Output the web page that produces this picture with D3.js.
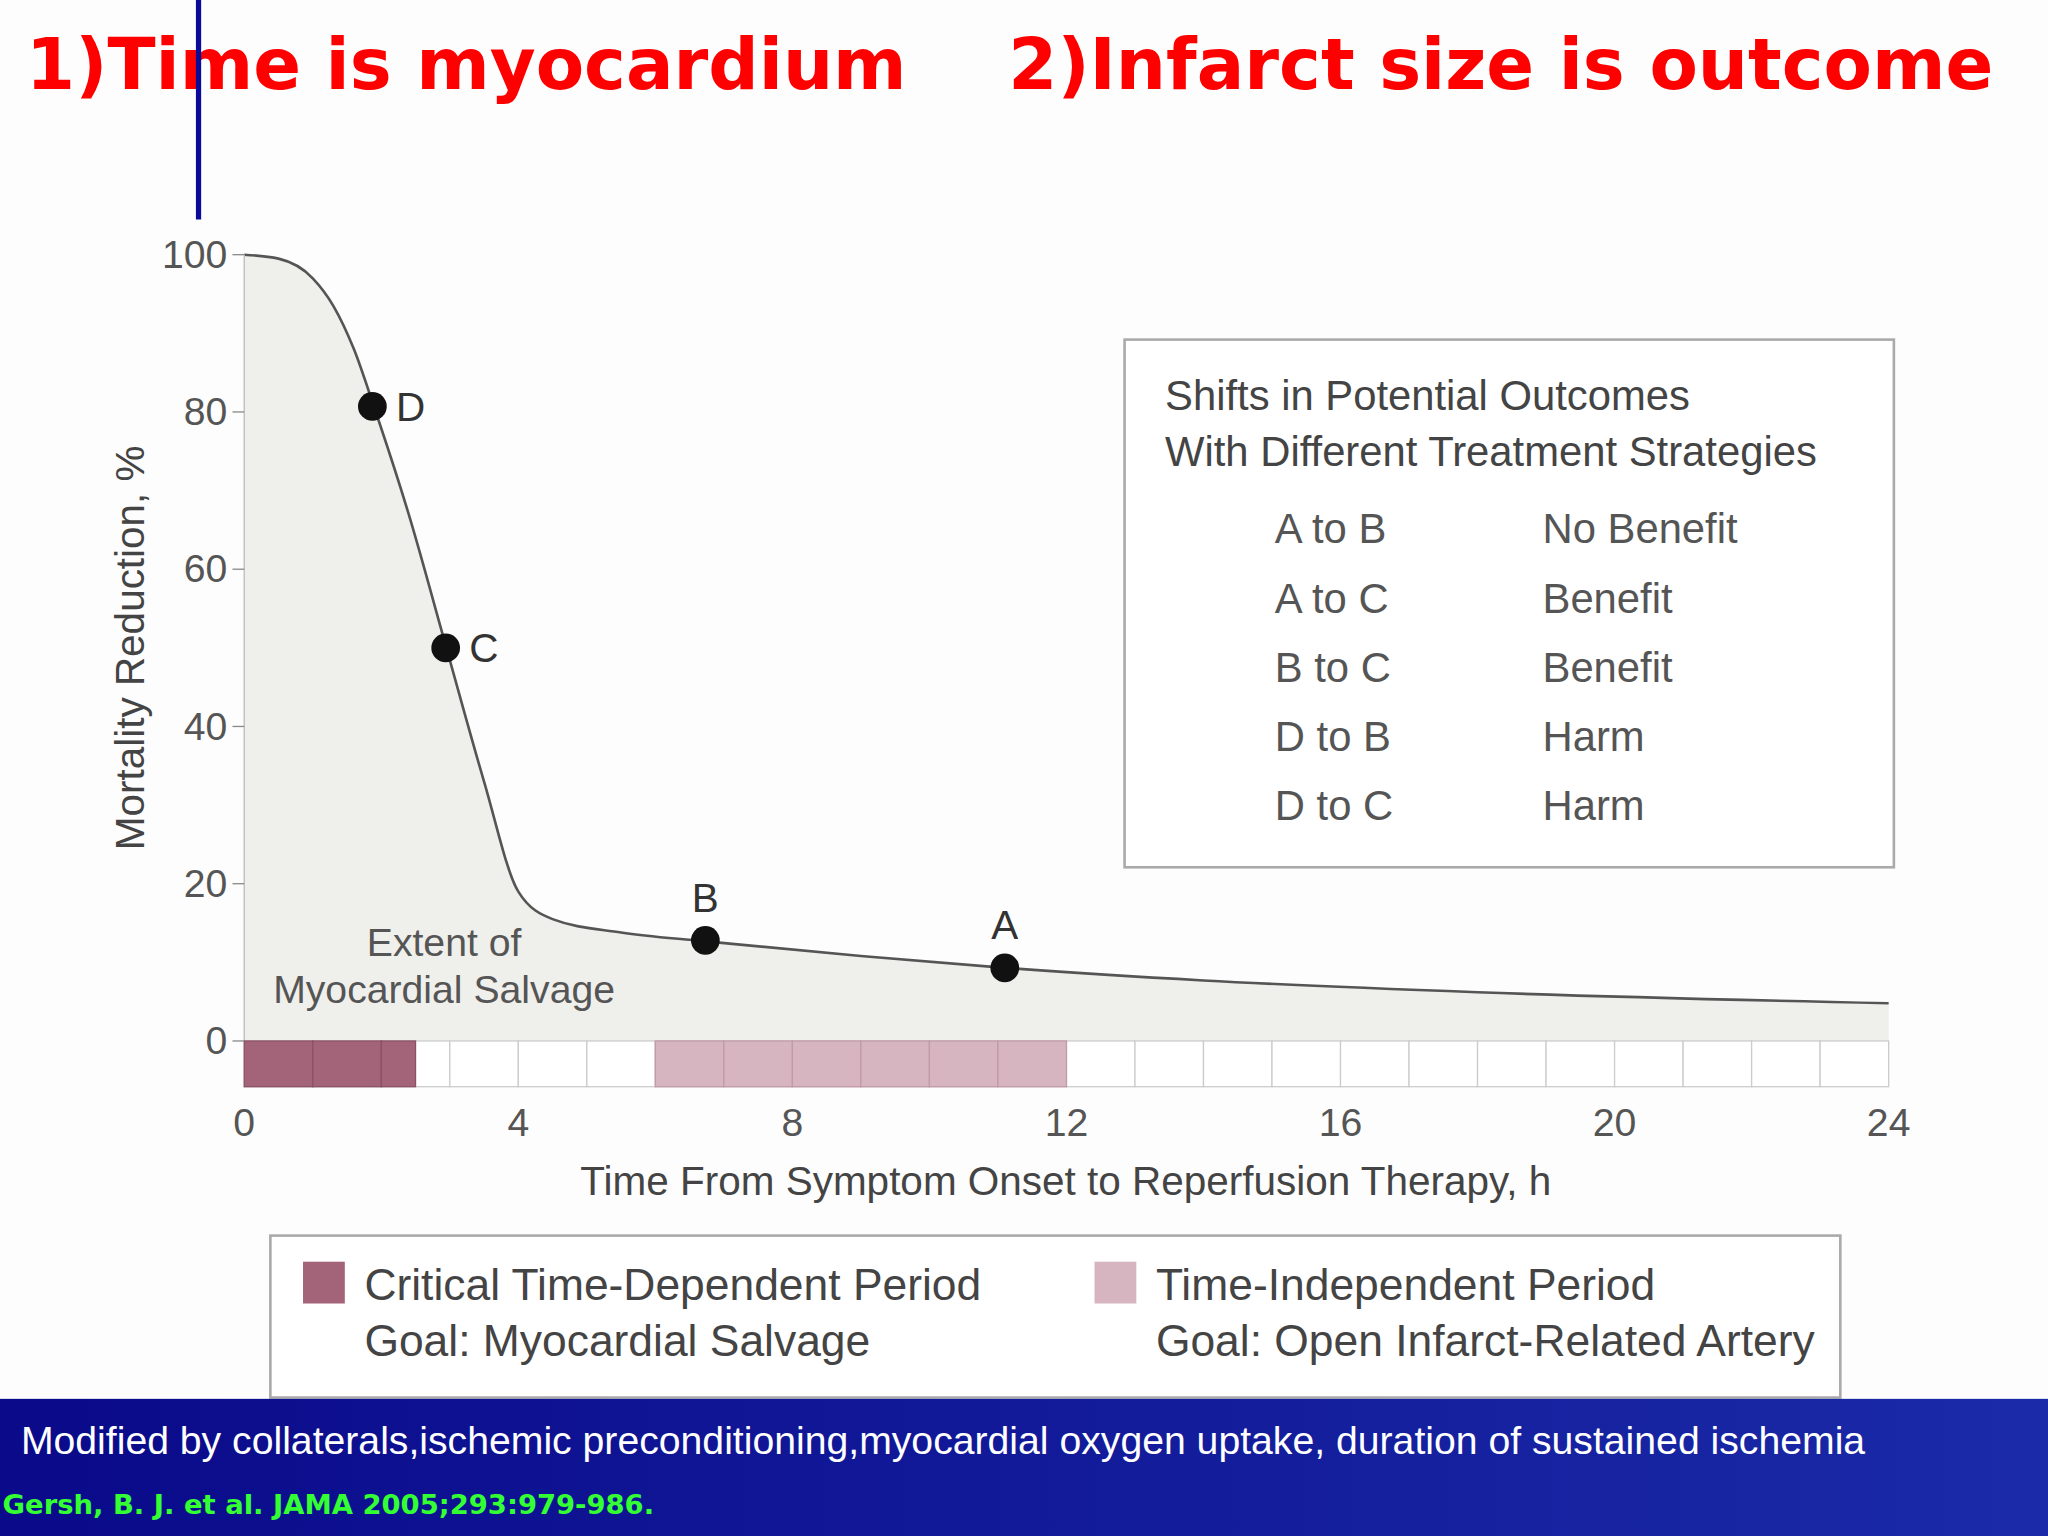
<!DOCTYPE html><html><head><meta charset="utf-8">
<script src="https://cdn.jsdelivr.net/npm/d3@7"></script>
<style>body{margin:0;background:#fff}</style></head><body>
<svg id="c" width="2048" height="1536" viewBox="0 0 1568 1176"></svg>
<script>
const curveT=[0,0.5,1,1.3,1.6,1.9,2.4,2.95,3.5,4,4.5,5.5,6.7,9,11.1,14,18,24];
const curveV=[100,99.5,97,93.5,88,80.5,67,50,33,19,15.5,13.8,12.7,10.8,9.3,7.7,6.2,4.8];
const ptLabels=["D","C","B","A"];
const ptT=[1.87,2.94,6.73,11.1];
const ptV=[80.7,50,12.8,9.3];
const xTicks=[0,4,8,12,16,20,24];
const yTicks=[0,20,40,60,80,100];
const criticalHours=[0,1,2];
const criticalEnd=2.5;
const indepHours=[6,7,8,9,10,11];
const tableRows=[["A to B","No Benefit"],["A to C","Benefit"],["B to C","Benefit"],["D to B","Harm"],["D to C","Harm"]];

const svg=d3.select("#c");
const F="Liberation Sans, Arial, sans-serif";
const x=d3.scaleLinear().domain([0,24]).range([187,1446]);
const y=d3.scaleLinear().domain([0,100]).range([797,195]);
svg.append("rect").attr("width",1568).attr("height",1176).attr("fill","#fdfdfd");
const pts=curveT.map((t,i)=>[t,curveV[i]]);
svg.append("path").datum(pts).attr("fill","#efefeb")
 .attr("d",d3.area().x(d=>x(d[0])).y0(y(0)).y1(d=>y(d[1])).curve(d3.curveMonotoneX));
svg.append("path").datum(pts).attr("fill","none").attr("stroke","#555").attr("stroke-width",2)
 .attr("d",d3.line().x(d=>x(d[0])).y(d=>y(d[1])).curve(d3.curveMonotoneX));
svg.append("line").attr("x1",x(0)).attr("x2",x(0)).attr("y1",y(100)).attr("y2",y(0)).attr("stroke","#bbb");
const hours=d3.range(24);
svg.selectAll(".cell").data(hours).join("rect").attr("x",h=>x(h)).attr("y",797).attr("width",x(1)-x(0)).attr("height",35)
 .attr("fill","#fff").attr("stroke","#ccc");
svg.selectAll(".dk").data(criticalHours).join("rect").attr("x",h=>x(h)).attr("y",797)
 .attr("width",h=>x(Math.min(h+1,criticalEnd))-x(h)).attr("height",35).attr("fill","#a3647a").attr("stroke","#8e5066");
svg.selectAll(".lt").data(indepHours).join("rect").attr("x",h=>x(h)).attr("y",797)
 .attr("width",x(1)-x(0)).attr("height",35).attr("fill","#d6b5c0").attr("stroke","#c29aa8");
svg.selectAll(".xt").data(xTicks).join("text").attr("x",d=>x(d)).attr("y",870).attr("text-anchor","middle")
 .attr("font-family",F).attr("font-size",30).attr("fill","#555").text(d=>d);
svg.selectAll(".yt").data(yTicks).join("text").attr("x",174).attr("y",d=>y(d)+10).attr("text-anchor","end")
 .attr("font-family",F).attr("font-size",30).attr("fill","#555").text(d=>d);
svg.selectAll(".ytk").data(yTicks).join("line").attr("x1",178).attr("x2",187).attr("y1",d=>y(d)).attr("y2",d=>y(d)).attr("stroke","#888");
svg.append("text").attr("x",816).attr("y",915).attr("text-anchor","middle").attr("font-family",F).attr("font-size",31).attr("fill","#444")
 .text("Time From Symptom Onset to Reperfusion Therapy, h");
svg.append("text").attr("transform","translate(110,496) rotate(-90)").attr("text-anchor","middle").attr("font-family",F).attr("font-size",31).attr("fill","#444")
 .text("Mortality Reduction, %");
ptT.forEach((t,i)=>{
 svg.append("circle").attr("cx",x(t)).attr("cy",y(ptV[i])).attr("r",11).attr("fill","#111");
 const above=i>=2;
 svg.append("text").attr("x",above?x(t):x(t)+18).attr("y",above?y(ptV[i])-22:y(ptV[i])+11)
  .attr("text-anchor",above?"middle":"start").attr("font-family",F).attr("font-size",31).attr("fill","#333").text(ptLabels[i]);
});
svg.append("text").attr("x",340).attr("y",732).attr("text-anchor","middle").attr("font-family",F).attr("font-size",30).attr("fill","#555").text("Extent of");
svg.append("text").attr("x",340).attr("y",768).attr("text-anchor","middle").attr("font-family",F).attr("font-size",30).attr("fill","#555").text("Myocardial Salvage");
svg.append("rect").attr("x",861).attr("y",260).attr("width",589).attr("height",404).attr("fill","#fff").attr("stroke","#aaa").attr("stroke-width",2);
svg.append("text").attr("x",892).attr("y",314).attr("font-family",F).attr("font-size",32).attr("fill","#444").text("Shifts in Potential Outcomes");
svg.append("text").attr("x",892).attr("y",357).attr("font-family",F).attr("font-size",32).attr("fill","#444").text("With Different Treatment Strategies");
tableRows.forEach((r,i)=>{
 svg.append("text").attr("x",976).attr("y",416+i*53).attr("font-family",F).attr("font-size",32).attr("fill","#555").text(r[0]);
 svg.append("text").attr("x",1181).attr("y",416+i*53).attr("font-family",F).attr("font-size",32).attr("fill","#555").text(r[1]);
});
svg.append("rect").attr("x",207).attr("y",946).attr("width",1202).attr("height",124).attr("fill","#fff").attr("stroke","#aaa").attr("stroke-width",2);
svg.append("rect").attr("x",232).attr("y",966).attr("width",32).attr("height",32).attr("fill","#a3647a");
svg.append("rect").attr("x",838).attr("y",966).attr("width",32).attr("height",32).attr("fill","#d6b5c0");
[["Critical Time-Dependent Period",279,995],["Goal: Myocardial Salvage",279,1038],["Time-Independent Period",885,995],["Goal: Open Infarct-Related Artery",885,1038]]
.forEach(d=>svg.append("text").attr("x",d[1]).attr("y",d[2]).attr("font-family",F).attr("font-size",34).attr("fill","#444").text(d[0]));
svg.append("text").attr("x",20).attr("y",68).attr("font-family","DejaVu Sans, sans-serif").attr("font-weight","bold").attr("font-size",54).attr("fill","#ff0000").text("1)Time is myocardium");
svg.append("text").attr("x",772).attr("y",68).attr("font-family","DejaVu Sans, sans-serif").attr("font-weight","bold").attr("font-size",54).attr("fill","#ff0000").text("2)Infarct size is outcome");
svg.append("line").attr("x1",152).attr("x2",152).attr("y1",0).attr("y2",168).attr("stroke","#0a0a9a").attr("stroke-width",4);
const g=svg.append("defs").append("linearGradient").attr("id","gb").attr("x1",0).attr("x2",1);
g.append("stop").attr("offset",0).attr("stop-color","#0a0a8a");g.append("stop").attr("offset",1).attr("stop-color","#1a2aa8");
svg.append("rect").attr("x",0).attr("y",1071).attr("width",1568).attr("height",105).attr("fill","url(#gb)");
svg.append("text").attr("x",16).attr("y",1113).attr("font-family",F).attr("font-size",30).attr("fill","#fff")
 .text("Modified by collaterals,ischemic preconditioning,myocardial oxygen uptake, duration of sustained ischemia");
svg.append("text").attr("x",2).attr("y",1159).attr("font-family","DejaVu Sans, sans-serif").attr("font-weight","bold").attr("font-size",21).attr("fill","#33ff33")
 .text("Gersh, B. J. et al. JAMA 2005;293:979-986.");
</script></body></html>
